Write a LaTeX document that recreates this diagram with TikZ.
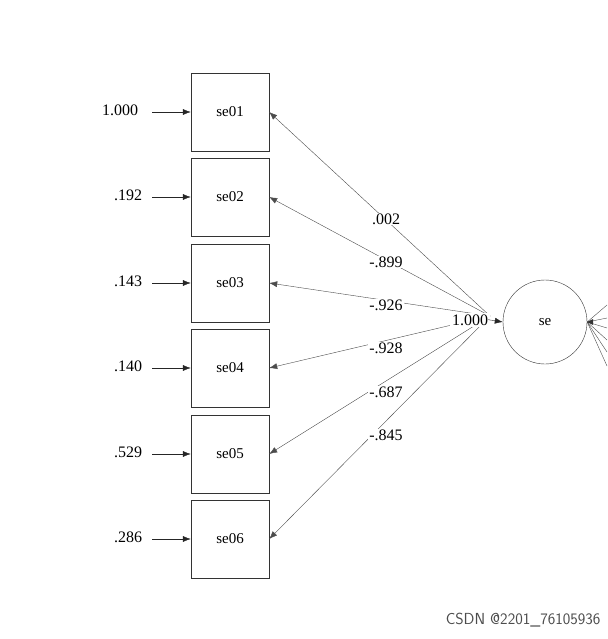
\documentclass[tikz,border=0pt]{standalone}
\usepackage{fontspec}
\setmainfont{Liberation Serif}
\usetikzlibrary{arrows.meta}
\begin{document}
\begin{tikzpicture}[x=1pt,y=-1pt,
  obs/.style={draw=black!80,minimum width=78pt,minimum height=78pt,inner sep=0pt,font=\fontsize{15}{15}\selectfont},
  lat/.style={draw=black!80,circle,minimum size=84pt,inner sep=0pt,font=\fontsize{15}{15}\selectfont},
  val/.style={font=\fontsize{16}{16}\selectfont,inner sep=1pt},
  lab/.style={font=\fontsize{16}{16}\selectfont,fill=white,inner sep=1pt},
  arr/.style={-{Latex[length=8pt,width=6pt]},black!85},
  path/.style={-{Latex[length=8pt,width=6pt]},black!70}]
\useasboundingbox (0,0) rectangle (607,639);
\foreach \i/\y/\v/\vx in {1/112/1.000/120,2/197/.192/128,3/283/.143/128,4/368/.140/128,5/454/.529/128,6/539/.286/128}{
  \node[obs] (b\i) at (230,\y) {se0\i};
  \node[val] (v\i) at (\vx,\y-2) {\v};
  \draw[arr] (152,\y) coordinate (s\i) -- (b\i.west);
}
\node[lat] (se) at (545,322) {se};
\coordinate (hub) at (490,316);
\draw[path] (hub) -- (b1.east);
\draw[path] (hub) -- (b2.east);
\draw[path] (hub) -- (b3.east);
\draw[path] (hub) -- (b4.east);
\draw[path] (hub) -- (b5.east);
\draw[path] (hub) -- (b6.east);
\foreach \t/\ly in {.002/219,-.899/262,-.926/305,-.928/348,-.687/392,-.845/435}
  \node[lab] at (386,\ly) {\t};
\node[val,fill=white,inner sep=2pt] (one) at (470,320) {1.000};
\draw[arr,shorten <=-2pt] (one.east) -- (se.west);
\foreach \ey [count=\k] in {305,318,328,340,352,366}{
  \coordinate (e\k) at (607,\ey);
  \draw[black!70] (e\k) -- (se.east);
}
\fill[black!80] (se.east) -- ++(6,-3) -- ++(0,6) -- cycle;
\node[font=\fontsize{16}{16}\selectfont\sffamily,text=black!70,anchor=east] (wm) at (604,620) {CSDN @2201\_76105936};
\end{tikzpicture}
\end{document}
